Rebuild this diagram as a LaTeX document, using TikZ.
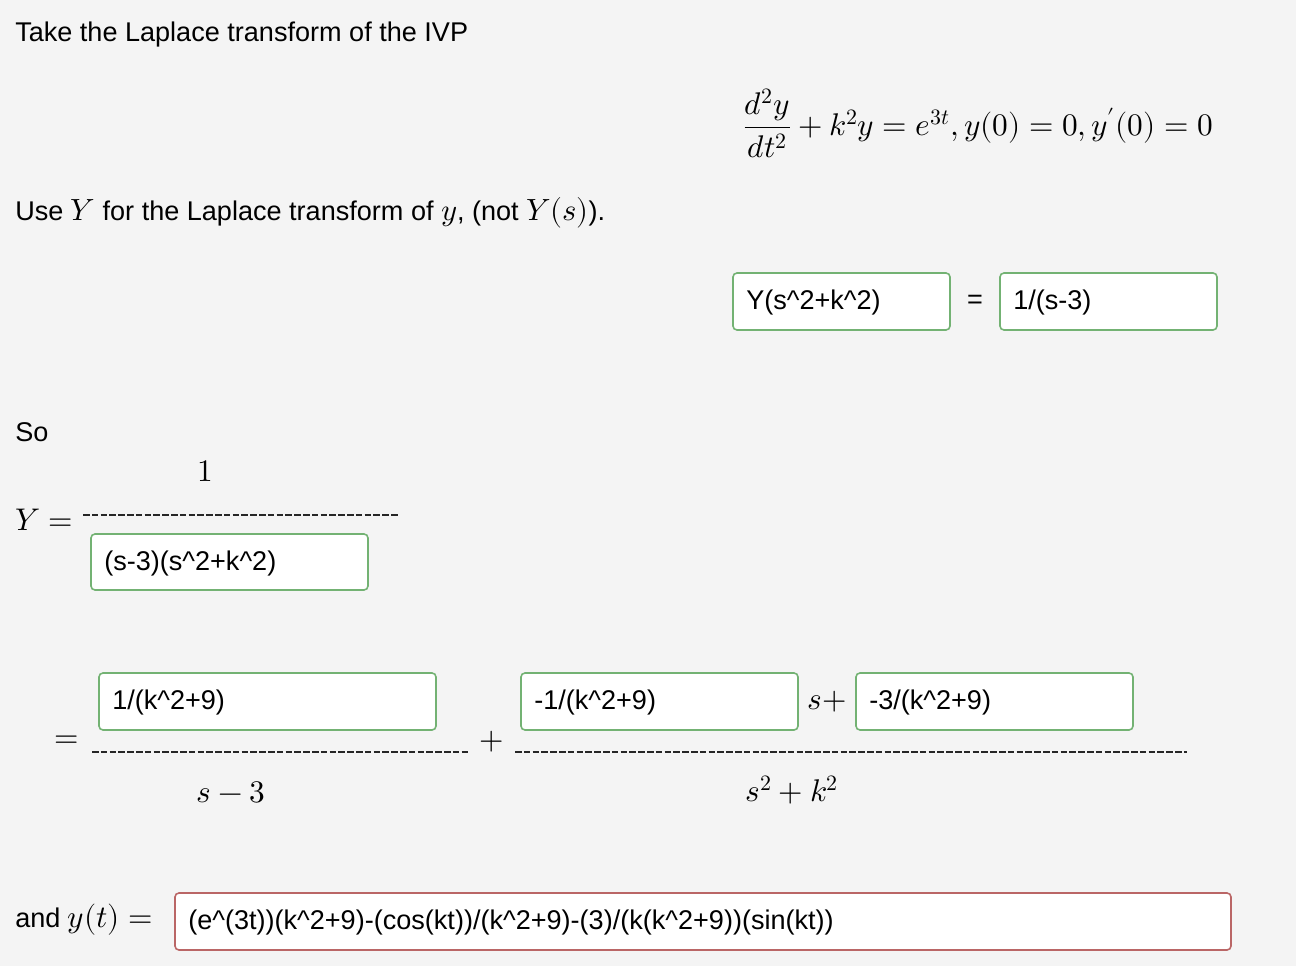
\documentclass[tikz,border=0pt]{standalone}
\usepackage{fontspec}
\setmainfont{Liberation Sans}
\usepackage{unicode-math}
\setmathfont{Latin Modern Math}
\begin{document}
\begin{tikzpicture}[x=0.75pt,y=-0.75pt,
  every node/.style={inner sep=0pt,font=\fontsize{20.3}{24}\selectfont},
  ans/.style={draw=green!45!black!55,line width=1.2pt,rounded corners=3pt,fill=white},
  bad/.style={draw=red!55!black!60,line width=1.2pt,rounded corners=3pt,fill=white},
  dl/.style={draw=black!85,line width=0.8pt,dash pattern=on 5pt off 1.6pt},
  lbl/.style={anchor=west}]
\fill[fill={rgb,255:red,244;green,244;blue,244}] (0,0) rectangle (1296,966);
\useasboundingbox (0,0) rectangle (1296,966);
\node[lbl] (t1) at (15,35) {Take the Laplace transform of the IVP};
\node (eq) at (978,123) {\fontsize{23.5}{27}\selectfont$\dfrac{d^2y}{dt^2}+k^2y=e^{3t}, y(0)=0, y'(0)=0$};
\node[lbl] (t2) at (15,213) {Use \fontsize{23}{26}\selectfont$Y$\fontsize{20.3}{24}\selectfont{} for the Laplace transform of \fontsize{23}{26}\selectfont$y$\fontsize{20.3}{24}\selectfont, (not \fontsize{23}{26}\selectfont$Y(s)$\fontsize{20.3}{24}\selectfont).};
\draw[ans] (733,273) rectangle (950,330);
\node[lbl] (b1) at (746,302) {Y(s\^{}2+k\^{}2)};
\node (e1) at (975,302) {=};
\draw[ans] (1000,273) rectangle (1217,330);
\node[lbl] (b2) at (1013,302) {1/(s-3)};
\node[lbl] (so) at (15,432) {So};
\node (one) at (205,471) {\fontsize{23.5}{27}\selectfont$1$};
\node[lbl] (Y) at (15,520) {\fontsize{23.5}{27}\selectfont$Y=$};
\coordinate (d1a) at (83,515); \coordinate (d1b) at (398,515);
\draw[dl] (d1a) -- (d1b);
\draw[ans] (91,534) rectangle (368,590);
\node[lbl] (b3) at (104,563) {(s-3)(s\^{}2+k\^{}2)};
\node (eq2) at (67,742) {\fontsize{23.5}{27}\selectfont$=$};
\draw[ans] (99,673) rectangle (436,730);
\node[lbl] (b4) at (112,702) {1/(k\^{}2+9)};
\coordinate (d2a) at (92,752); \coordinate (d2b) at (470,752);
\draw[dl] (d2a) -- (d2b);
\node (plus) at (492,742) {\fontsize{23.5}{27}\selectfont$+$};
\coordinate (d3a) at (515,752); \coordinate (d3b) at (1187,752);
\draw[dl] (d3a) -- (d3b);
\draw[ans] (521,673) rectangle (798,730);
\node[lbl] (b5) at (534,702) {-1/(k\^{}2+9)};
\node (splus) at (827,702) {\fontsize{23.5}{27}\selectfont$s+$};
\draw[ans] (856,673) rectangle (1133,730);
\node[lbl] (b6) at (869,702) {-3/(k\^{}2+9)};
\node (den1) at (231,792) {\fontsize{23.5}{27}\selectfont$s-3$};
\node (den2) at (792,790) {\fontsize{23.5}{27}\selectfont$s^2+k^2$};
\node[lbl] (and) at (15,920) {and \fontsize{23.5}{27}\selectfont$y(t)=$};
\draw[bad] (175,893) rectangle (1231,950);
\node[lbl] (b7) at (188,922) {(e\^{}(3t))(k\^{}2+9)-(cos(kt))/(k\^{}2+9)-(3)/(k(k\^{}2+9))(sin(kt))};
\end{tikzpicture}
\end{document}
